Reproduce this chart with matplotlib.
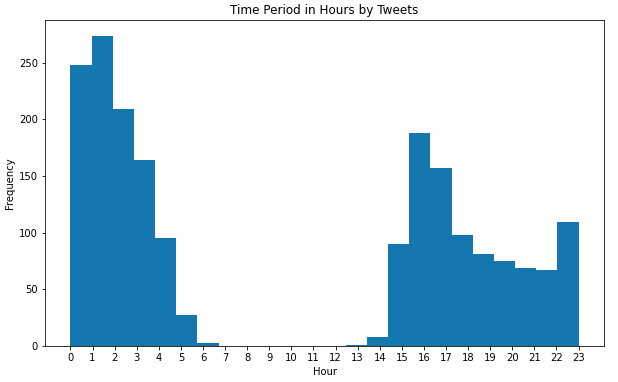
import matplotlib
matplotlib.use("Agg")
import matplotlib.pyplot as plt

hours = list(range(24))
counts = [248, 274, 209, 164, 95, 27, 3, 0, 0, 0, 0, 0, 0, 1, 8, 90, 188, 157, 98, 81, 75, 69, 67, 109]
tick_labels = [str(h) for h in hours]

fig = plt.figure(figsize=(618/72, 382/72), dpi=72)
ax = fig.add_axes([45/618, 1-346/382, (604-45)/618, (346-20)/382])
ax.hist(hours, bins=24, weights=counts, color='#1477b0')
ax.set_xticks(hours)
ax.set_xticklabels(tick_labels)
ax.set_title('Time Period in Hours by Tweets', fontsize=12)
ax.set_xlabel('Hour', fontsize=10)
ax.set_ylabel('Frequency', fontsize=10)
ax.tick_params(labelsize=10)
fig.savefig('out.png', dpi=72)
